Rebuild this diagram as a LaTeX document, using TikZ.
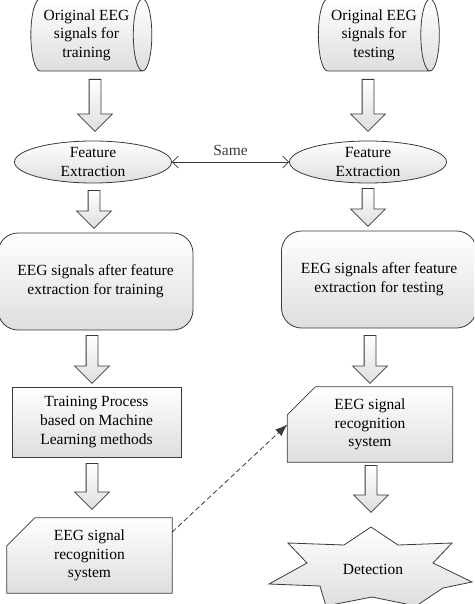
\documentclass[tikz,border=0pt]{standalone}
\usepackage{fontspec}
\setmainfont{Liberation Serif}
\usetikzlibrary{positioning,shapes.geometric,shapes.arrows,arrows.meta,backgrounds}
\definecolor{Cborda}{RGB}{58,58,58}
\definecolor{Cclaro}{RGB}{222,222,222}

\begin{document}
\begin{tikzpicture}[x=1pt,y=-1pt,
    font=\fontsize{15.5}{18.7}\selectfont,
    caixa/.style={draw=Cborda, line width=0.8pt, top color=white, bottom color=Cclaro,
      align=center, inner sep=0pt},
    preenche/.style={draw=Cborda, line width=0.8pt, top color=white, bottom color=Cclaro},
    cilindro/.style={caixa, cylinder, shape aspect=0.36, minimum height=121pt, minimum width=72pt},
    elipse/.style={caixa, ellipse, minimum width=157pt, minimum height=42pt},
    arredondado/.style={caixa, rectangle, rounded corners=20pt, minimum width=195pt, minimum height=97pt},
    retangulo/.style={caixa, rectangle, minimum width=169pt, minimum height=70pt},
    cartao/.style={align=center, inner sep=0pt, minimum width=165pt, minimum height=75pt},
    seta/.style={preenche, single arrow, shape border rotate=270, anchor=tail,
      single arrow head extend=11.5pt, single arrow tip angle=90, text height=0pt,
      text depth=0pt, inner xsep=5.5pt, inner ysep=0pt, minimum width=34pt, minimum height=#1},
    duplo/.style={Cborda, line width=0.7pt,
      {Straight Barb[length=6pt,width=12pt]}-{Straight Barb[length=6pt,width=12pt]}},
    tracejada/.style={Cborda, line width=0.8pt, dash pattern=on 5pt off 3pt,
      -{Latex[length=12pt,width=9pt]}}]
  \useasboundingbox (0,0) rectangle (474,604);
  \clip (0,0) rectangle (474,604);

  % Lado de treino
  \node[cilindro] (origL) at (86.5,35) {Original EEG\\signals for\\training};
  \node[seta=52pt] (s1L) at (95,79) {};
  \node[elipse] (featL) at (93,162) {Feature\\Extraction};
  \node[seta=38pt] (s2L) at (94,190) {};
  \node[arredondado] (extrL) at (95.5,281.5) {EEG signals after feature\\extraction for training};
  \node[seta=48pt] (s3L) at (92,335) {};
  \node[retangulo] (treino) at (96.5,422) {Training Process\\based on Machine\\Learning methods};
  \node[seta=46pt] (s4L) at (92,463) {};
  \node[cartao] (recL) at (89.5,555.5) {EEG signal\\recognition\\system};

  % Lado de teste
  \node[cilindro] (origR) at (374,35) {Original EEG\\signals for\\testing};
  \node[seta=52pt] (s1R) at (368,79) {};
  \node[elipse] (featR) at (368,162) {Feature\\Extraction};
  \node[seta=38pt] (s2R) at (368,188) {};
  \node[arredondado] (extrR) at (379,279.5) {EEG signals after feature\\extraction for testing};
  \node[seta=48pt] (s3R) at (370,335) {};
  \node[cartao] (recR) at (370,424.5) {EEG signal\\recognition\\system};
  \node[seta=47pt] (s4R) at (371,465) {};
  \node (detec) at (373,569) {Detection};

  % Contornos com canto cortado e estrela (por tras do texto)
  \begin{pgfonlayer}{background}
    \foreach \c in {recL,recR}
      \draw[preenche] ([xshift=28pt]\c.north west) -- (\c.north east) -- (\c.south east)
        -- (\c.south west) -- ([yshift=-28pt]\c.north west) -- cycle;
    \draw[preenche]
      (371,527) -- (398,545) -- (452,543) -- (433,563) -- (472,582) -- (443,588)
      -- (416,606) -- (372,597) -- (326,606) -- (320,586) -- (269,584) -- (307,563)
      -- (288,543) -- (344,545) -- cycle;
  \end{pgfonlayer}

  % Ligacoes
  \draw[duplo] (featL.east) -- node[above=6pt, inner sep=0pt] (mesmo) {Same} (featR.west);
  \draw[tracejada] ([yshift=23.5pt]recL.east) -- (recR.west);
\end{tikzpicture}
\end{document}
